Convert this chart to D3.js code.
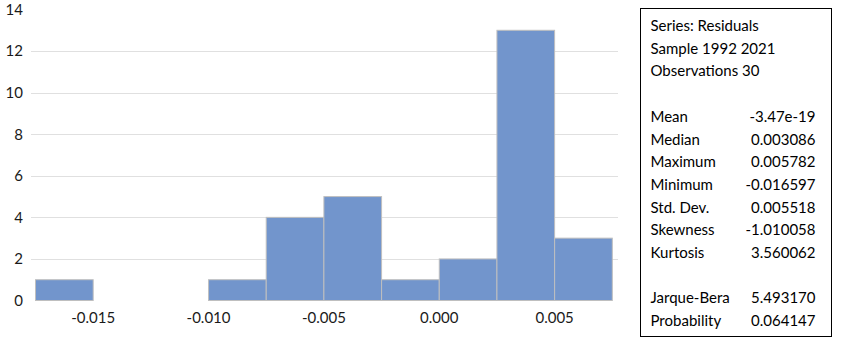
<!DOCTYPE html>
<html>
<head>
<meta charset="utf-8">
<script src="https://cdn.jsdelivr.net/npm/d3@7"></script>
<style>
  body { margin: 0; background: #fff; }
  svg { display: block; font-family: Lato, "Noto Sans", sans-serif; }
</style>
</head>
<body>
<script>
// histogram data (bin width 0.0025)
const binStarts = [-0.0175, -0.015, -0.0125, -0.01, -0.0075, -0.005, -0.0025, 0, 0.0025, 0.005]
const binWidth = 0.0025
const counts = [1, 0, 0, 1, 4, 5, 1, 2, 13, 3]

const xTicks = [-0.015, -0.010, -0.005, 0.000, 0.005]
const yTicks = [0, 2, 4, 6, 8, 10, 12, 14]

// stats box
const statHeader = ["Series: Residuals", "Sample 1992 2021", "Observations 30"]
const statNames = ["Mean", "Median", "Maximum", "Minimum", "Std. Dev.", "Skewness", "Kurtosis"]
const statValues = ["-3.47e-19", "0.003086", "0.005782", "-0.016597", "0.005518", "-1.010058", "3.560062"]
const testNames = ["Jarque-Bera", "Probability"]
const testValues = ["5.493170", "0.064147"]

const width = 854, height = 357

const svg = d3.select("body").append("svg")
    .attr("width", width)
    .attr("height", height)

const x = d3.scaleLinear()
    .domain([-0.0175, 0.0075])
    .range([35.5, 612.3])

const y = d3.scaleLinear()
    .domain([0, 14])
    .range([300.5, 9.5])

// gridlines
svg.append("g")
    .selectAll("line")
    .data(yTicks.filter(d => d > 0 && d < 14))
    .join("line")
    .attr("x1", 31)
    .attr("x2", 618)
    .attr("y1", d => Math.round(y(d)) + 0.5)
    .attr("y2", d => Math.round(y(d)) + 0.5)
    .attr("stroke", "#e0e0e0")
    .attr("stroke-width", 1)

// y labels
svg.append("g")
    .selectAll("text")
    .data(yTicks)
    .join("text")
    .attr("x", 23)
    .attr("y", d => y(d))
    .attr("dy", "0.36em")
    .attr("text-anchor", "end")
    .attr("font-size", 15)
    .attr("fill", "#1a1a1a")
    .text(d => d)

// bars
svg.append("g")
    .selectAll("rect")
    .data(counts.map((c, i) => ({ x0: binStarts[i], count: c })).filter(d => d.count > 0))
    .join("rect")
    .attr("x", d => x(d.x0))
    .attr("y", d => y(d.count))
    .attr("width", d => x(d.x0 + binWidth) - x(d.x0))
    .attr("height", d => y(0) - y(d.count))
    .attr("fill", "#7295cc")
    .attr("stroke", "#bfbfbf")
    .attr("stroke-width", 1)

// x labels
svg.append("g")
    .selectAll("text")
    .data(xTicks)
    .join("text")
    .attr("x", d => x(d))
    .attr("y", 318)
    .attr("dy", "0.36em")
    .attr("text-anchor", "middle")
    .attr("font-size", 15)
    .attr("fill", "#1a1a1a")
    .text(d => d3.format(".3f")(d).replace("−", "-"))

// stats box
const box = svg.append("g")
box.append("rect")
    .attr("x", 640.5)
    .attr("y", 8.5)
    .attr("width", 191)
    .attr("height", 328)
    .attr("fill", "none")
    .attr("stroke", "#000")
    .attr("stroke-width", 1)

const lineH = 22.6
const fs = 15

box.selectAll(".hdr")
    .data(statHeader)
    .join("text")
    .attr("class", "hdr")
    .attr("x", 650.5)
    .attr("y", (d, i) => 25.7 + i * lineH)
    .attr("dy", "0.36em")
    .attr("font-size", fs)
    .text(d => d)

box.selectAll(".sname")
    .data(statNames)
    .join("text")
    .attr("class", "sname")
    .attr("x", 650.5)
    .attr("y", (d, i) => 116.7 + i * lineH)
    .attr("dy", "0.36em")
    .attr("font-size", fs)
    .text(d => d)

box.selectAll(".sval")
    .data(statValues)
    .join("text")
    .attr("class", "sval")
    .attr("x", 815.5)
    .attr("y", (d, i) => 116.7 + i * lineH)
    .attr("dy", "0.36em")
    .attr("text-anchor", "end")
    .attr("font-size", fs)
    .text(d => d)

box.selectAll(".tname")
    .data(testNames)
    .join("text")
    .attr("class", "tname")
    .attr("x", 650.5)
    .attr("y", (d, i) => 297.7 + i * lineH)
    .attr("dy", "0.36em")
    .attr("font-size", fs)
    .text(d => d)

box.selectAll(".tval")
    .data(testValues)
    .join("text")
    .attr("class", "tval")
    .attr("x", 815.5)
    .attr("y", (d, i) => 297.7 + i * lineH)
    .attr("dy", "0.36em")
    .attr("text-anchor", "end")
    .attr("font-size", fs)
    .text(d => d)
</script>
</body>
</html>
